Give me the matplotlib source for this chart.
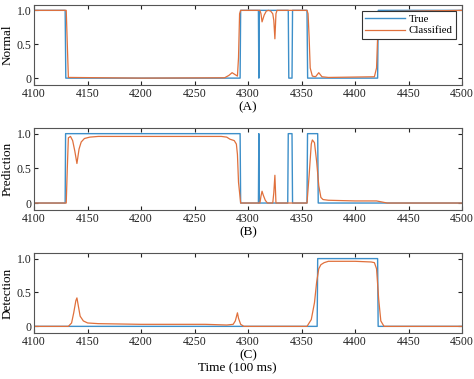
import matplotlib
matplotlib.use("Agg")
import matplotlib.pyplot as plt

plt.rcParams.update({
    "font.family": ["Liberation Serif", "DejaVu Serif"],
    "font.size": 9.5,
    "axes.linewidth": 0.8,
    "axes.edgecolor": "#555555",
    "xtick.direction": "in", "ytick.direction": "in",
    "xtick.top": True, "ytick.right": True,
    "xtick.major.size": 3, "ytick.major.size": 3,
    "xtick.labelsize": 8.5, "ytick.labelsize": 8.5,
})

BLUE = "#3d8fc9"
ORANGE = "#e0703c"

# --- (A) Normal ---
a_true_t = [4100, 4129, 4129.6, 4292.5, 4293, 4309.6, 4310, 4310.4, 4337.5, 4338, 4341, 4341.5,
            4355, 4355.6, 4421, 4421.6, 4500]
a_true_v = [1, 1, 0, 0, 1, 1, 0, 1, 1, 0, 0, 1, 1, 0, 0, 1, 1]
a_cls_t = [4100, 4130, 4131, 4132, 4200, 4278, 4282, 4285, 4288, 4290, 4291, 4292, 4293,
           4311, 4312, 4313, 4315, 4317, 4319, 4321, 4323, 4324, 4325, 4326, 4327,
           4355, 4356, 4357, 4358, 4360, 4363, 4366, 4369, 4375, 4418, 4420, 4421, 4422, 4500]
a_cls_v = [1, 1, 0.5, 0.01, 0.0, 0.005, 0.04, 0.08, 0.05, 0.03, 0.3, 0.95, 1.0,
           1.0, 0.95, 0.83, 0.93, 0.99, 1.0, 0.99, 0.95, 0.85, 0.58, 0.95, 1.0,
           1.0, 0.95, 0.6, 0.15, 0.03, 0.02, 0.08, 0.02, 0.01, 0.02, 0.15, 0.6, 0.98, 1.0]

# --- (B) Prediction ---
b_true_t = [4100, 4129, 4129.4, 4292.5, 4293, 4309.6, 4310, 4310.4, 4337, 4337.5, 4341, 4341.5,
            4355, 4355.5, 4365, 4365.5, 4500]
b_true_v = [0, 0, 1, 1, 0, 0, 1, 0, 0, 1, 1, 0, 0, 1, 1, 0, 0]
b_cls_t = [4100, 4130, 4131, 4132, 4134, 4136, 4138, 4140, 4142, 4144, 4147, 4152, 4160, 4200,
           4275, 4280, 4283, 4287, 4289, 4290, 4291, 4293, 4311, 4312, 4313, 4314, 4316, 4318,
           4323, 4324, 4325, 4326, 4355, 4357, 4359, 4360, 4362, 4364, 4366, 4368, 4370, 4375,
           4400, 4418, 4420, 4430, 4500]
b_cls_v = [0, 0, 0.5, 0.94, 0.96, 0.9, 0.75, 0.57, 0.78, 0.88, 0.93, 0.95, 0.96, 0.96,
           0.96, 0.95, 0.92, 0.9, 0.85, 0.7, 0.3, 0.0, 0.0, 0.1, 0.17, 0.12, 0.04, 0.0,
           0.0, 0.15, 0.4, 0.0, 0.0, 0.4, 0.85, 0.91, 0.87, 0.6, 0.25, 0.08, 0.05, 0.04,
           0.03, 0.03, 0.03, 0.0, 0.0]

# --- (C) Detection ---
c_true_t = [4100, 4364.5, 4365, 4421, 4421.5, 4500]
c_true_v = [0, 0, 1, 1, 0, 0]
c_cls_t = [4100, 4132, 4135, 4137, 4139, 4140, 4141, 4143, 4146, 4150, 4160, 4200, 4260, 4280,
           4286, 4288, 4290, 4291, 4293, 4296, 4355, 4359, 4362, 4364, 4366, 4368, 4371, 4375,
           4400, 4415, 4418, 4420, 4422, 4424, 4427, 4500]
c_cls_v = [0, 0, 0.05, 0.2, 0.38, 0.42, 0.33, 0.15, 0.08, 0.05, 0.04, 0.03, 0.03, 0.02,
           0.03, 0.08, 0.2, 0.12, 0.03, 0.0, 0.0, 0.1, 0.35, 0.65, 0.85, 0.91, 0.94, 0.96,
           0.96, 0.95, 0.94, 0.85, 0.4, 0.08, 0.0, 0.0]

panels = [
    ("Normal", "(A)", a_true_t, a_true_v, a_cls_t, a_cls_v),
    ("Prediction", "(B)", b_true_t, b_true_v, b_cls_t, b_cls_v),
    ("Detection", "(C)", c_true_t, c_true_v, c_cls_t, c_cls_v),
]
# axes boxes in figure fractions: left, bottom, width, height
boxes = [
    [0.072, 0.776, 0.903, 0.211],
    [0.072, 0.446, 0.903, 0.216],
    [0.072, 0.121, 0.903, 0.211],
]

fig = plt.figure(figsize=(4.74, 3.79), dpi=100)
for i, (ylab, tag, tt, tv, ct, cv) in enumerate(panels):
    ax = fig.add_axes(boxes[i])
    ax.plot(tt, tv, color=BLUE, lw=1.0, label="True")
    ax.plot(ct, cv, color=ORANGE, lw=0.9, label="Classified")
    ax.set_xlim(4100, 4500)
    ax.set_ylim(-0.1, 1.08)
    ax.set_xticks(range(4100, 4501, 50))
    ax.set_yticks([0, 0.5, 1.0])
    ax.set_yticklabels(["0", "0.5", "1.0"])
    ax.set_ylabel(ylab, labelpad=2)
    ax.set_xlabel(tag, labelpad=1)
    ax.tick_params(pad=2, colors="#222222")
    if i == 0:
        leg = ax.legend(loc="upper right", fontsize=7.8, handlelength=3.7,
                        fancybox=False, framealpha=1, borderaxespad=0.6,
                        borderpad=0.3, labelspacing=0.15, handletextpad=0.3)
        leg.get_frame().set_edgecolor("#333333")
        leg.get_frame().set_linewidth(0.8)
    if i == 2:
        fig.text(0.5, 0.012, "Time (100 ms)", ha="center", va="bottom", fontsize=9.5)

fig.savefig("out.png", dpi=100)
